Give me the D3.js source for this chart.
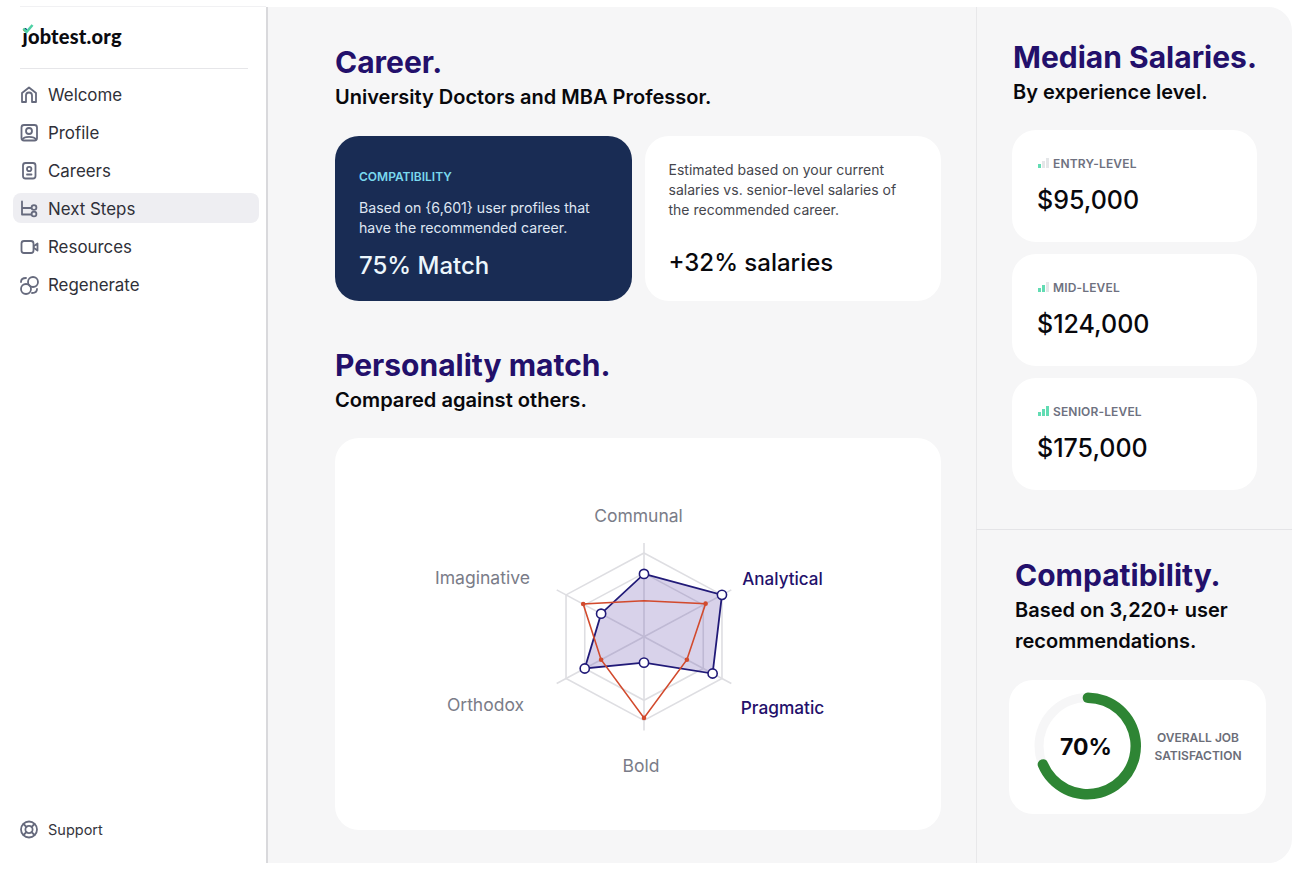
<!DOCTYPE html>
<html><head><meta charset="utf-8">
<script src="https://cdn.jsdelivr.net/npm/d3@7/dist/d3.min.js"></script>
<style>
html,body{margin:0;padding:0;background:#fff;overflow:hidden}
svg{display:block}
text{font-family:Inter,"Noto Sans",sans-serif}
</style></head><body>
<svg id="c" width="1298" height="870"></svg>
<script>
const navItems = ["Welcome","Profile","Careers","Next Steps","Resources","Regenerate"];
const axesNames = ["Communal","Analytical","Pragmatic","Bold","Orthodox","Imaginative"];
const youValues = [75,100,88,31,76,55];
const othersValues = [43,79,55,97,55,78];
const gridLevels = [76,100];
const salaryLevels = ["ENTRY-LEVEL","MID-LEVEL","SENIOR-LEVEL"];
const salaryValues = [95000,124000,175000];
const satisfaction = 70;

const svg = d3.select("#c");
const put=(x,y,t,size,weight,fill,anchor)=>svg.append("text").attr("x",x).attr("y",y).text(t)
  .attr("font-size",size).attr("font-weight",weight).attr("fill",fill).attr("text-anchor",anchor||"start");
const card=(x,y,w,h,r,fill)=>svg.append("rect").attr("x",x).attr("y",y).attr("width",w).attr("height",h).attr("rx",r).attr("fill",fill||"#fff");

// page structure
svg.append("path").attr("d","M268 7H1268a24 24 0 0 1 24 24V839a24 24 0 0 1 -24 24H268Z").attr("fill","#f6f6f7");
svg.append("rect").attr("x",266).attr("y",7).attr("width",2).attr("height",856).attr("fill","#d9d9dc");
svg.append("rect").attr("x",20).attr("y",6).attr("width",246).attr("height",1).attr("fill","#f1f1f3");
svg.append("rect").attr("x",976).attr("y",7).attr("width",1).attr("height",856).attr("fill","#e8e8ea");
svg.append("rect").attr("x",976).attr("y",529).attr("width",316).attr("height",1).attr("fill","#e4e4e7");

// sidebar
put(22.5,44,"jobtest.org",20,900,"#0b0b0f").style("font-family","Lato").style("letter-spacing","0.2px");
svg.append("path").attr("d","M23.5 28.5L26.5 32L32.5 25").attr("fill","none").attr("stroke","#4fd1a5").attr("stroke-width",2.6);
svg.append("rect").attr("x",20).attr("y",68).attr("width",228).attr("height",1).attr("fill","#e6e6e9");
card(13,193,246,30,8,"#eeeef2");
const navY=d3.scalePoint().domain(navItems).range([95,285]);
navItems.forEach(n=>put(48,navY(n)+6.4,n,16.9,400,"#2f3038"));
const ic=svg.append("g").attr("fill","none").attr("stroke","#666a7d").attr("stroke-width",1.8).attr("stroke-linejoin","round").attr("stroke-linecap","round");
ic.append("path").attr("d","M22 102V93L29 87.5L36 93V102H32V95.5A3 3 0 0 0 26 95.5V102Z");
ic.append("rect").attr("x",21.5).attr("y",125).attr("width",15.5).attr("height",15.5).attr("rx",2.5);
ic.append("circle").attr("cx",29).attr("cy",131).attr("r",3);
ic.append("path").attr("d","M22.5 139.5C24 136 34 136 36 139.5");
ic.append("rect").attr("x",23).attr("y",163).attr("width",12.5).attr("height",15.5).attr("rx",2.5);
ic.append("circle").attr("cx",29.2).attr("cy",169).attr("r",2.2);
ic.append("path").attr("d","M27 174.5H31.5");
ic.append("path").attr("d","M22 201.5V214.5H31M22 208H31");
ic.append("circle").attr("cx",34).attr("cy",207.5).attr("r",2.4);
ic.append("circle").attr("cx",34).attr("cy",214).attr("r",2.4);
ic.append("rect").attr("x",21.5).attr("y",241).attr("width",12).attr("height",12).attr("rx",2.5);
ic.append("path").attr("d","M34 246L37.5 243.5V250.5L34 248");
ic.append("circle").attr("cx",26).attr("cy",289).attr("r",5);
ic.append("circle").attr("cx",33).attr("cy",282).attr("r",5);
ic.append("path").attr("d","M21 282C21 279 23 278 26 278M37 289C37 292 35 293 32 293");
ic.append("circle").attr("cx",29).attr("cy",829.5).attr("r",8);
ic.append("circle").attr("cx",29).attr("cy",829.5).attr("r",3.6);
ic.append("path").attr("d","M23.5 824L26.5 827M34.5 824L31.5 827M23.5 835L26.5 832M34.5 835L31.5 832");
put(48,835,"Support",14.5,400,"#34353d");

// headings
const purple="#23106b";
put(335,73.3,"Career.",30,700,purple);
put(335,103.5,"University Doctors and MBA Professor.",20,600,"#08080c");
put(335,376.3,"Personality match.",30,700,purple);
put(335,406.5,"Compared against others.",20.1,600,"#08080c");
put(1013,68.3,"Median Salaries.",30,700,purple);
put(1013,98.5,"By experience level.",20,600,"#08080c");
put(1015,586.3,"Compatibility.",30,700,purple);
put(1015,616.5,"Based on 3,220+ user",20,600,"#08080c");
put(1015,647.5,"recommendations.",20,600,"#08080c");

// career cards
card(335,136,297,165,24,"#192c54");
put(359,181,"COMPATIBILITY",12,600,"#7ad9ee");
put(359,213,"Based on {6,601} user profiles that",14.15,400,"#dfe6f2");
put(359,233,"have the recommended career.",14.15,400,"#dfe6f2");
put(359,273.5,"75% Match",24,550,"#ecf6fc");
card(645,136,296,165,24);
put(668.5,175,"Estimated based on your current",14,400,"#45464d");
put(668.5,195,"salaries vs. senior-level salaries of",14,400,"#45464d");
put(668.5,215,"the recommended career.",14,400,"#45464d");
put(668.5,270.5,"+32% salaries",24,550,"#08080c");

// salaries
const fmt=d3.format("$,");
const salY=d3.scalePoint().domain(salaryLevels).range([130,378]);
salaryLevels.forEach((l,i)=>{
  const y=salY(l);
  card(1012,y,245,112,24);
  put(1053,y+38,l,12,600,"#6e7180").style("letter-spacing","0.15px");
  put(1037,y+78.5,fmt(salaryValues[i]),25,550,"#08080c");
  [0,1,2].forEach(b=>{
    const h=[4,7,10][b];
    svg.append("rect").attr("x",1038+b*4).attr("y",y+38-h).attr("width",3).attr("height",h)
      .attr("fill",b<=i?"#62dcb3":"#e4e6e8");
  });
});

// radar
card(335,438,606,392,24);
const cx=644,cy=636.7,kx=1.023,ky=0.951;
const rad=d3.scaleLinear().domain([0,100]).range([0,88]);
const angle=d3.scalePoint().domain(axesNames).range([0,300]);
const pt=(a,v)=>{const t=angle(a)*Math.PI/180;return [cx+rad(v)*Math.sin(t)*kx,cy-rad(v)*Math.cos(t)*ky];};
const closed=d3.line().curve(d3.curveLinearClosed);
const g=svg.append("g");
gridLevels.forEach(l=>g.append("path").attr("d",closed(axesNames.map(a=>pt(a,l)))).attr("fill","none").attr("stroke","#dedee2").attr("stroke-width",1.6));
axesNames.forEach(a=>{const p=pt(a,112);g.append("line").attr("x1",cx).attr("y1",cy).attr("x2",p[0]).attr("y2",p[1]).attr("stroke","#dedee2").attr("stroke-width",1.6);});
const you=axesNames.map((a,i)=>pt(a,youValues[i]));
const oth=axesNames.map((a,i)=>pt(a,othersValues[i]));
g.append("path").attr("d",closed(you)).attr("fill","#5a43a8").attr("fill-opacity",0.24).attr("stroke","#211a78").attr("stroke-width",1.8);
g.append("path").attr("d",closed(oth)).attr("fill","none").attr("stroke","#d24a2d").attr("stroke-width",1.6);
g.selectAll(".o").data(oth.slice(1)).join("circle").attr("cx",d=>d[0]).attr("cy",d=>d[1]).attr("r",2.3).attr("fill","#d24a2d");
g.selectAll(".y").data(you).join("circle").attr("cx",d=>d[0]).attr("cy",d=>d[1]).attr("r",4.6).attr("fill","#fff").attr("stroke","#211a78").attr("stroke-width",1.6);
const labelPos={Communal:[638.5,522,"#7a7c88",17.5],Analytical:[782.5,585,purple,17],Pragmatic:[782.5,713.5,purple,17.3],Bold:[641,771.5,"#7a7c88",17.5],Orthodox:[485.5,710.5,"#7a7c88",17.5],Imaginative:[482.5,584,"#7a7c88",17.6]};
axesNames.forEach(a=>{const q=labelPos[a];put(q[0],q[1],a,q[3],q[2]===purple?500:400,q[2],"middle");});

// compatibility
card(1009,680,257,134,24);
const dx=1087.5,dy=746;
const ga=svg.append("g").attr("transform",`translate(${dx},${dy})`);
const arc=d3.arc().innerRadius(43).outerRadius(53.5).cornerRadius(5.2);
const pct=d3.scaleLinear().domain([0,100]).range([0,2*Math.PI]);
ga.append("path").attr("d",d3.arc().innerRadius(44).outerRadius(53)({startAngle:0,endAngle:2*Math.PI})).attr("fill","#f6f6f7");
ga.append("path").attr("d",arc({startAngle:pct(0)-0.1,endAngle:pct(satisfaction)+0.03})).attr("fill","#2e8534");
put(1086,755,satisfaction+"%",23,700,"#08080c","middle");
put(1198,742,"OVERALL JOB",12,600,"#6b6d78","middle");
put(1198,760,"SATISFACTION",12,600,"#6b6d78","middle");
</script></body></html>
